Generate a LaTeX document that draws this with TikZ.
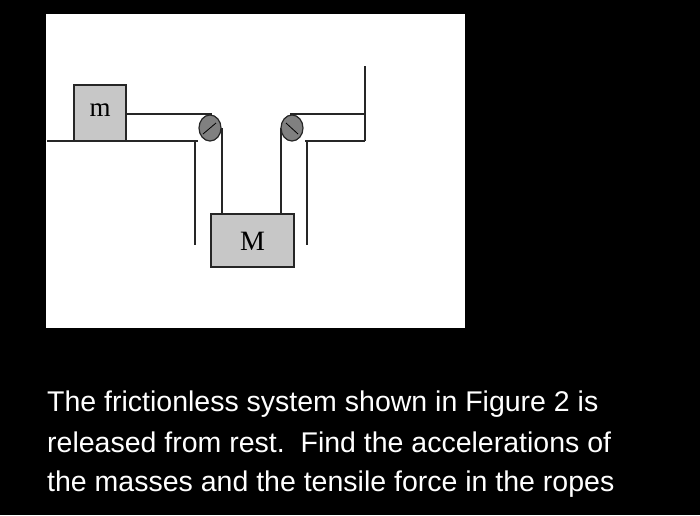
\documentclass[tikz,border=0pt]{standalone}
\usepackage{fontspec}
\setmainfont{Liberation Sans}
\newfontfamily\serifb{Liberation Serif}
\begin{document}
\begin{tikzpicture}[x=1pt,y=-1pt,
  ln/.style={line width=1.3pt,black!85},
  blk/.style={draw=black!85,line width=1.3pt,fill=black!22},
  pul/.style={draw=black!85,line width=1.2pt,fill=black!50},
  captxt/.style={anchor=west,text=white,inner sep=0pt,font=\fontsize{28.5}{34}\selectfont}]
\fill[black] (0,0) rectangle (700,515);
\useasboundingbox (0,0) rectangle (700,515);
\fill[white] (46,14) rectangle (465,328);
% left side
\draw[ln] (47,141) -- (198,141);
\draw[ln] (195,141) -- (195,245);
\draw[blk] (74,85) rectangle (126,141);
\node[font=\serifb\fontsize{27}{28}\selectfont] (m) at (100,110) {m};
\coordinate (lp) at (210,128);
\draw[ln] (126,114) -- (212,114);
\draw[ln] (222,128) -- (222,214);
\draw[pul] (lp) ellipse (11 and 13);
\draw[line width=0.8pt] (203,134) -- (216,123);
% M
\draw[blk] (211,214) rectangle (294,267);
\node[font=\serifb\fontsize{28}{29}\selectfont] (M) at (252.5,241) {M};
% right side
\coordinate (rp) at (292,128);
\draw[ln] (290,114) -- (365,114);
\draw[ln] (281,128) -- (281,214);
\draw[ln] (365,66) -- (365,141);
\draw[ln] (305,141) -- (365,141);
\draw[ln] (307,141) -- (307,245);
\draw[pul] (rp) ellipse (11 and 13);
\draw[line width=0.8pt] (286,123) -- (298,134);
% caption
\node[captxt] (t1) at (47,404) {The frictionless system shown in Figure 2 is};
\node[captxt] (t2) at (47,442) {released from rest.\ \ Find the accelerations of};
\node[captxt] (t3) at (47,484) {the masses and the tensile force in the ropes};
\end{tikzpicture}
\end{document}
